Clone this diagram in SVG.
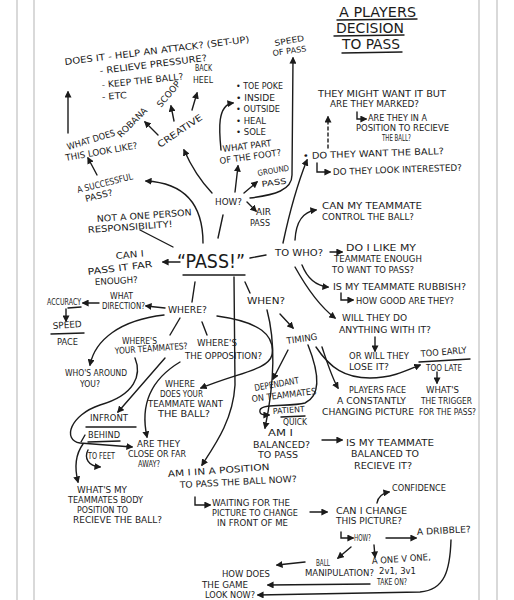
<svg xmlns="http://www.w3.org/2000/svg" width="514" height="600" viewBox="0 0 514 600">
<style>
text{font-family:"DejaVu Sans","Liberation Sans",sans-serif;font-size:9px;fill:#1b1b1b}
.s{font-size:8px}
.t{font-size:14px}
.big{font-size:19px}
.ln{fill:none;stroke:#1b1b1b;stroke-width:1.4;stroke-linecap:round}
.ar{fill:none;stroke:#1b1b1b;stroke-width:1.4;stroke-linecap:round;marker-end:url(#ah)}
.frame{stroke:#d9d9d9;stroke-width:2}
</style>
<defs>
<marker id="ah" viewBox="0 0 10 10" refX="8" refY="5" markerWidth="5" markerHeight="5" orient="auto"><path d="M0,0 L10,5 L0,10 z" fill="#1b1b1b"/></marker>
</defs>
<rect width="514" height="600" fill="#fff"/>
<g id="page-edges">
<line class="frame" x1="17" y1="0" x2="17" y2="600"/>
<line class="frame" x1="34" y1="0" x2="34" y2="600"/>
<line class="frame" x1="479" y1="0" x2="479" y2="600"/>
<line class="frame" x1="497" y1="0" x2="497" y2="600"/>
</g>
<g id="title">
<text class="t" x="339" y="17" textLength="77" lengthAdjust="spacingAndGlyphs">A PLAYERS</text>
<text class="t" x="336" y="33" textLength="68" lengthAdjust="spacingAndGlyphs">DECISION</text>
<text class="t" x="342" y="49" textLength="58" lengthAdjust="spacingAndGlyphs">TO PASS</text>
<path class="ln" d="M337,20 L417,19 M334,36 L404,35 M342,53 L402,52"/>
</g>
<g id="does-it">
<text x="65" y="65" transform="rotate(-7 65 65)" textLength="186" lengthAdjust="spacingAndGlyphs">DOES IT - HELP AN ATTACK? (SET-UP)</text>
<text x="100" y="74" transform="rotate(-7 100 74)" textLength="108" lengthAdjust="spacingAndGlyphs">- RELIEVE PRESSURE?</text>
<text x="102" y="88" transform="rotate(-6 102 88)" textLength="82" lengthAdjust="spacingAndGlyphs">- KEEP THE BALL?</text>
<text x="102" y="100" transform="rotate(-4 102 100)" textLength="25" lengthAdjust="spacingAndGlyphs">- ETC</text>
</g>
<g id="back-heel">
<text x="195" y="71" textLength="17" lengthAdjust="spacingAndGlyphs">BACK</text>
<text x="193" y="83" textLength="20" lengthAdjust="spacingAndGlyphs">HEEL</text>
</g>
<g id="scoop"><text x="161" y="108" transform="rotate(-50 161 108)" textLength="31" lengthAdjust="spacingAndGlyphs">SCOOP</text></g>
<g id="robana"><text x="121" y="138" transform="rotate(-45 121 138)" textLength="38" lengthAdjust="spacingAndGlyphs">ROBANA</text></g>
<g id="creative"><text x="160" y="148" transform="rotate(-34 160 148)" textLength="52" lengthAdjust="spacingAndGlyphs">CREATIVE</text></g>
<g id="what-does">
<text x="68" y="150" transform="rotate(-17 68 150)" textLength="50" lengthAdjust="spacingAndGlyphs">WHAT DOES</text>
<text x="66" y="161" transform="rotate(-10 66 161)" textLength="73" lengthAdjust="spacingAndGlyphs">THIS LOOK LIKE?</text>
</g>
<g id="foot-parts">
<text x="236" y="89" textLength="47" lengthAdjust="spacingAndGlyphs">• TOE POKE</text>
<text x="236" y="101" textLength="39" lengthAdjust="spacingAndGlyphs">• INSIDE</text>
<text x="236" y="112" textLength="44" lengthAdjust="spacingAndGlyphs">• OUTSIDE</text>
<text x="236" y="124" textLength="30" lengthAdjust="spacingAndGlyphs">• HEAL</text>
<text x="236" y="135" textLength="30" lengthAdjust="spacingAndGlyphs">• SOLE</text>
</g>
<g id="what-part">
<text x="223" y="152" transform="rotate(-7 223 152)" textLength="49" lengthAdjust="spacingAndGlyphs">WHAT PART</text>
<text x="220" y="164" transform="rotate(-8 220 164)" textLength="62" lengthAdjust="spacingAndGlyphs">OF THE FOOT?</text>
</g>
<g id="speed-of-pass">
<text class="s" x="275" y="46" transform="rotate(-10 275 46)" textLength="30" lengthAdjust="spacingAndGlyphs">SPEED</text>
<text class="s" x="273" y="56" transform="rotate(-8 273 56)" textLength="34" lengthAdjust="spacingAndGlyphs">OF PASS</text>
</g>
<g id="marked">
<text x="318" y="97" textLength="128" lengthAdjust="spacingAndGlyphs">THEY MIGHT WANT IT BUT</text>
<text x="330" y="107" textLength="89" lengthAdjust="spacingAndGlyphs">ARE THEY MARKED?</text>
</g>
<g id="in-position">
<text class="s" x="368" y="121" textLength="59" lengthAdjust="spacingAndGlyphs">ARE THEY IN A</text>
<text class="s" x="356" y="131" textLength="93" lengthAdjust="spacingAndGlyphs">POSITION TO RECIEVE</text>
<text class="s" x="382" y="141" textLength="29" lengthAdjust="spacingAndGlyphs">THE BALL?</text>
</g>
<g id="want-ball"><text x="303" y="159" transform="rotate(-2 303 159)" textLength="141" lengthAdjust="spacingAndGlyphs">• DO THEY WANT THE BALL?</text></g>
<g id="interested"><text x="333" y="175" transform="rotate(-2 333 175)" textLength="129" lengthAdjust="spacingAndGlyphs">DO THEY LOOK INTERESTED?</text></g>
<g id="successful">
<text x="78" y="193" transform="rotate(-14 78 193)" textLength="57" lengthAdjust="spacingAndGlyphs">A SUCCESSFUL</text>
<text x="86" y="202" transform="rotate(-14 86 202)" textLength="28" lengthAdjust="spacingAndGlyphs">PASS?</text>
</g>
<g id="not-one">
<text x="97" y="222" transform="rotate(-4 97 222)" textLength="95" lengthAdjust="spacingAndGlyphs">NOT A ONE PERSON</text>
<text x="88" y="233" transform="rotate(-4 88 233)" textLength="85" lengthAdjust="spacingAndGlyphs">RESPONSIBILITY!</text>
</g>
<g id="can-pass">
<text x="116" y="259" transform="rotate(-5 116 259)" textLength="28" lengthAdjust="spacingAndGlyphs">CAN I</text>
<text x="88" y="275" transform="rotate(-7 88 275)" textLength="65" lengthAdjust="spacingAndGlyphs">PASS IT FAR</text>
<text x="95" y="285" transform="rotate(-3 95 285)" textLength="43" lengthAdjust="spacingAndGlyphs">ENOUGH?</text>
</g>
<g id="pass">
<text class="big" x="177" y="268" textLength="68" lengthAdjust="spacingAndGlyphs">“PASS!”</text>
<path class="ln" d="M183,275 L245,275"/>
</g>
<g id="how"><text x="215" y="205" textLength="27" lengthAdjust="spacingAndGlyphs">HOW?</text></g>
<g id="ground-pass">
<text class="s" x="258" y="176" transform="rotate(-10 258 176)" textLength="32" lengthAdjust="spacingAndGlyphs">GROUND</text>
<text class="s" x="262" y="187" transform="rotate(-8 262 187)" textLength="25" lengthAdjust="spacingAndGlyphs">PASS</text>
</g>
<g id="air-pass">
<text class="s" x="256" y="215" textLength="15" lengthAdjust="spacingAndGlyphs">AIR</text>
<text class="s" x="250" y="226" textLength="20" lengthAdjust="spacingAndGlyphs">PASS</text>
</g>
<g id="to-who"><text x="275" y="256" textLength="48" lengthAdjust="spacingAndGlyphs">TO WHO?</text></g>
<g id="can-my">
<text x="322" y="209" textLength="100" lengthAdjust="spacingAndGlyphs">CAN MY TEAMMATE</text>
<text x="322" y="220" textLength="92" lengthAdjust="spacingAndGlyphs">CONTROL THE BALL?</text>
</g>
<g id="do-i-like">
<text x="346" y="251" textLength="70" lengthAdjust="spacingAndGlyphs">DO I LIKE MY</text>
<text x="334" y="262" textLength="88" lengthAdjust="spacingAndGlyphs">TEAMMATE ENOUGH</text>
<text x="332" y="273" textLength="82" lengthAdjust="spacingAndGlyphs">TO WANT TO PASS?</text>
</g>
<g id="rubbish"><text x="333" y="290" textLength="133" lengthAdjust="spacingAndGlyphs">IS MY TEAMMATE RUBBISH?</text></g>
<g id="how-good"><text class="s" x="356" y="304" textLength="98" lengthAdjust="spacingAndGlyphs">HOW GOOD ARE THEY?</text></g>
<g id="when"><text x="247" y="304" textLength="38" lengthAdjust="spacingAndGlyphs">WHEN?</text></g>
<g id="will-they">
<text x="342" y="321" textLength="65" lengthAdjust="spacingAndGlyphs">WILL THEY DO</text>
<text x="339" y="333" textLength="92" lengthAdjust="spacingAndGlyphs">ANYTHING WITH IT?</text>
</g>
<g id="or-will">
<text x="349" y="359" textLength="60" lengthAdjust="spacingAndGlyphs">OR WILL THEY</text>
<text x="349" y="370" textLength="40" lengthAdjust="spacingAndGlyphs">LOSE IT?</text>
</g>
<g id="too-early">
<text x="421" y="357" transform="rotate(-5 421 357)" textLength="46" lengthAdjust="spacingAndGlyphs">TOO EARLY</text>
<path class="ln" d="M419,362 L470,359"/>
<text x="426" y="371" textLength="36" lengthAdjust="spacingAndGlyphs">TOO LATE</text>
</g>
<g id="players-face">
<text x="349" y="393" textLength="57" lengthAdjust="spacingAndGlyphs">PLAYERS FACE</text>
<text x="337" y="404" textLength="69" lengthAdjust="spacingAndGlyphs">A CONSTANTLY</text>
<text x="322" y="415" textLength="92" lengthAdjust="spacingAndGlyphs">CHANGING PICTURE</text>
</g>
<g id="trigger">
<text x="426" y="393" textLength="33" lengthAdjust="spacingAndGlyphs">WHAT'S</text>
<text x="421" y="404" textLength="51" lengthAdjust="spacingAndGlyphs">THE TRIGGER</text>
<text x="419" y="415" textLength="57" lengthAdjust="spacingAndGlyphs">FOR THE PASS?</text>
</g>
<g id="timing"><text x="287" y="344" transform="rotate(-8 287 344)" textLength="31" lengthAdjust="spacingAndGlyphs">TIMING</text></g>
<g id="dependant">
<text x="255" y="391" transform="rotate(-10 255 391)" textLength="45" lengthAdjust="spacingAndGlyphs">DEPENDANT</text>
<text x="252" y="402" transform="rotate(-7 252 402)" textLength="65" lengthAdjust="spacingAndGlyphs">ON TEAMMATES</text>
</g>
<g id="patient">
<text class="s" x="273" y="414" transform="rotate(-4 273 414)" textLength="32" lengthAdjust="spacingAndGlyphs">PATIENT</text>
<path class="ln" d="M281,417 L305,416"/>
<text class="s" x="283" y="425" textLength="24" lengthAdjust="spacingAndGlyphs">QUICK</text>
</g>
<g id="am-i-balanced">
<text x="268" y="436" textLength="25" lengthAdjust="spacingAndGlyphs">AM I</text>
<text x="253" y="448" textLength="57" lengthAdjust="spacingAndGlyphs">BALANCED?</text>
<text x="258" y="458" textLength="40" lengthAdjust="spacingAndGlyphs">TO PASS</text>
</g>
<g id="teammate-balanced">
<text x="346" y="446" textLength="88" lengthAdjust="spacingAndGlyphs">IS MY TEAMMATE</text>
<text x="351" y="457" textLength="68" lengthAdjust="spacingAndGlyphs">BALANCED TO</text>
<text x="354" y="469" textLength="58" lengthAdjust="spacingAndGlyphs">RECIEVE IT?</text>
</g>
<g id="accuracy">
<text x="47" y="305" textLength="34" lengthAdjust="spacingAndGlyphs">ACCURACY</text>
<path class="ln" d="M68,308 L81,307"/>
</g>
<g id="what-direction">
<text class="s" x="110" y="299" textLength="23" lengthAdjust="spacingAndGlyphs">WHAT</text>
<text class="s" x="102" y="309" textLength="43" lengthAdjust="spacingAndGlyphs">DIRECTION?</text>
</g>
<g id="speed-pace">
<text x="53" y="329" transform="rotate(-4 53 329)" textLength="29" lengthAdjust="spacingAndGlyphs">SPEED</text>
<path class="ln" d="M51,334 L84,333"/>
<text x="57" y="345" textLength="21" lengthAdjust="spacingAndGlyphs">PACE</text>
</g>
<g id="where"><text x="168" y="313" textLength="39" lengthAdjust="spacingAndGlyphs">WHERE?</text></g>
<g id="where-teammates">
<text x="122" y="344" textLength="35" lengthAdjust="spacingAndGlyphs">WHERE'S</text>
<text x="115" y="354" transform="rotate(-4 115 354)" textLength="73" lengthAdjust="spacingAndGlyphs">YOUR TEAMMATES?</text>
</g>
<g id="where-opposition">
<text x="197" y="346" textLength="40" lengthAdjust="spacingAndGlyphs">WHERE'S</text>
<text x="185" y="359" textLength="77" lengthAdjust="spacingAndGlyphs">THE OPPOSITION?</text>
</g>
<g id="whos-around">
<text x="65" y="376" textLength="62" lengthAdjust="spacingAndGlyphs">WHO'S AROUND</text>
<text x="80" y="387" textLength="20" lengthAdjust="spacingAndGlyphs">YOU?</text>
</g>
<g id="where-does">
<text x="165" y="387" textLength="30" lengthAdjust="spacingAndGlyphs">WHERE</text>
<text x="160" y="397" textLength="43" lengthAdjust="spacingAndGlyphs">DOES YOUR</text>
<text x="148" y="407" textLength="75" lengthAdjust="spacingAndGlyphs">TEAMMATE WANT</text>
<text x="158" y="417" textLength="52" lengthAdjust="spacingAndGlyphs">THE BALL?</text>
</g>
<g id="infront">
<text x="90" y="421" textLength="38" lengthAdjust="spacingAndGlyphs">INFRONT</text>
<path class="ln" d="M86,427 L136,427 M88,442 L120,441 M81,442 L85,435"/>
<text x="88" y="438" textLength="32" lengthAdjust="spacingAndGlyphs">BEHIND</text>
</g>
<g id="to-feet"><text x="88" y="459" textLength="27" lengthAdjust="spacingAndGlyphs">TO FEET</text></g>
<g id="are-they">
<text x="137" y="447" textLength="43" lengthAdjust="spacingAndGlyphs">ARE THEY</text>
<text x="128" y="457" textLength="58" lengthAdjust="spacingAndGlyphs">CLOSE OR FAR</text>
<text x="138" y="467" textLength="22" lengthAdjust="spacingAndGlyphs">AWAY?</text>
</g>
<g id="body-position">
<text x="77" y="493" textLength="50" lengthAdjust="spacingAndGlyphs">WHAT'S MY</text>
<text x="68" y="503" textLength="75" lengthAdjust="spacingAndGlyphs">TEAMMATES BODY</text>
<text x="77" y="513" textLength="51" lengthAdjust="spacingAndGlyphs">POSITION TO</text>
<text x="73" y="523" textLength="89" lengthAdjust="spacingAndGlyphs">RECIEVE THE BALL?</text>
</g>
<g id="am-i-position">
<text x="168" y="477" transform="rotate(-4 168 477)" textLength="102" lengthAdjust="spacingAndGlyphs">AM I IN A POSITION</text>
<text x="180" y="488" transform="rotate(-3 180 488)" textLength="117" lengthAdjust="spacingAndGlyphs">TO PASS THE BALL NOW?</text>
</g>
<g id="waiting">
<text x="212" y="506" textLength="78" lengthAdjust="spacingAndGlyphs">WAITING FOR THE</text>
<text x="212" y="516" textLength="86" lengthAdjust="spacingAndGlyphs">PICTURE TO CHANGE</text>
<text x="217" y="526" textLength="71" lengthAdjust="spacingAndGlyphs">IN FRONT OF ME</text>
</g>
<g id="can-change">
<text x="336" y="514" textLength="71" lengthAdjust="spacingAndGlyphs">CAN I CHANGE</text>
<text x="336" y="524" textLength="66" lengthAdjust="spacingAndGlyphs">THIS PICTURE?</text>
</g>
<g id="confidence"><text x="392" y="491" textLength="54" lengthAdjust="spacingAndGlyphs">CONFIDENCE</text></g>
<g id="how-2"><text x="354" y="541" textLength="17" lengthAdjust="spacingAndGlyphs">HOW?</text></g>
<g id="dribble"><text x="417" y="535" transform="rotate(-3 417 535)" textLength="54" lengthAdjust="spacingAndGlyphs">A DRIBBLE?</text></g>
<g id="one-v-one">
<text x="372" y="564" transform="rotate(-4 372 564)" textLength="59" lengthAdjust="spacingAndGlyphs">A ONE V ONE,</text>
<text x="379" y="574" textLength="37" lengthAdjust="spacingAndGlyphs">2v1, 3v1</text>
<text x="377" y="585" textLength="30" lengthAdjust="spacingAndGlyphs">TAKE ON?</text>
</g>
<g id="ball-manipulation">
<text x="316" y="566" textLength="14" lengthAdjust="spacingAndGlyphs">BALL</text>
<text x="305" y="576" textLength="69" lengthAdjust="spacingAndGlyphs">MANIPULATION?</text>
</g>
<g id="how-does">
<text x="222" y="577" textLength="48" lengthAdjust="spacingAndGlyphs">HOW DOES</text>
<text x="202" y="588" textLength="46" lengthAdjust="spacingAndGlyphs">THE GAME</text>
<text x="205" y="598" textLength="50" lengthAdjust="spacingAndGlyphs">LOOK NOW?</text>
</g>
<g id="connectors">
<path class="ar" d="M68,133 L68,92"/>
<path class="ar" d="M158,135 L145,122"/>
<path class="ar" d="M174,121 L171,106"/>
<path class="ar" d="M192,110 L197,93"/>
<path class="ar" d="M212,193 Q195,175 184,150"/>
<path class="ar" d="M221,150 C219,130 217,105 233,103"/>
<path class="ar" d="M235,192 L238,166"/>
<path class="ar" d="M244,193 L257,182"/>
<path class="ar" d="M247,202 L256,211"/>
<path class="ar" d="M250,198 C275,195 292,190 292,175 L293,58"/>
<path class="ar" d="M97,175 L88,158"/>
<path class="ar" d="M203,243 C203,205 185,183 146,181"/>
<path class="ln" d="M140,230 L173,247"/>
<path class="ar" d="M180,262 L163,262"/>
<path class="ln" d="M218,238 L223,215"/>
<path class="ln" d="M250,258 L266,255"/>
<path class="ar" d="M283,243 C290,210 297,185 307,160"/>
<path class="ar" d="M328,148 L328,117" stroke-dasharray="3 3"/>
<path class="ar" d="M357,112 L357,119 L366,119"/>
<path class="ar" d="M317,163 L317,172 L330,172"/>
<path class="ar" d="M295,240 C296,222 302,212 316,210"/>
<path class="ar" d="M330,252 L342,252"/>
<path class="ar" d="M302,265 C308,280 318,286 328,287"/>
<path class="ar" d="M341,293 L341,300 L353,300"/>
<path class="ar" d="M295,267 C305,285 318,305 335,318"/>
<path class="ar" d="M375,337 L375,351"/>
<path class="ar" d="M316,347 C330,368 345,378 370,378 C392,378 408,370 420,365"/>
<path class="ar" d="M437,372 L437,383"/>
<path class="ar" d="M322,347 C328,365 332,378 338,388"/>
<path class="ar" d="M280,314 L293,328"/>
<path class="ar" d="M288,350 L273,379"/>
<path class="ar" d="M308,345 C318,370 322,395 305,403 C290,407 262,403 260,410 C259,415 264,415 269,415"/>
<path class="ar" d="M267,310 C275,340 275,380 265,428"/>
<path class="ar" d="M322,440 L342,440"/>
<path class="ar" d="M234,277 L235,385 C233,420 215,445 202,465"/>
<path class="ln" d="M245,282 L250,293"/>
<path class="ln" d="M195,282 L192,302"/>
<path class="ar" d="M165,308 L146,306"/>
<path class="ar" d="M99,303 L83,303"/>
<path class="ar" d="M66,309 L66,321"/>
<path class="ln" d="M180,318 L170,335"/>
<path class="ln" d="M202,322 L207,335"/>
<path class="ar" d="M164,315 C120,320 95,340 90,365"/>
<path class="ar" d="M217,316 C260,322 275,335 272,355 C268,370 240,372 201,388"/>
<path class="ar" d="M165,358 L118,412"/>
<path class="ar" d="M135,358 C142,375 135,395 100,405 C70,415 62,440 80,443 L132,447"/>
<path class="ar" d="M180,362 C150,380 140,405 147,437"/>
<path class="ar" d="M83,444 C75,455 75,470 78,482"/>
<path class="ar" d="M88,450 C84,458 88,466 100,467"/>
<path class="ar" d="M195,497 L195,505 L210,505"/>
<path class="ar" d="M310,512 L327,512"/>
<path class="ar" d="M377,503 C378,497 383,493 389,492"/>
<path class="ar" d="M341,532 L341,538 L353,538"/>
<path class="ar" d="M386,538 L416,538"/>
<path class="ar" d="M351,547 L338,558"/>
<path class="ar" d="M374,545 L375,557"/>
<path class="ar" d="M305,562 L277,565"/>
<path class="ar" d="M370,584 L268,585"/>
<path class="ar" d="M451,540 C450,570 445,590 420,592 L258,595"/>
</g>
</svg>
